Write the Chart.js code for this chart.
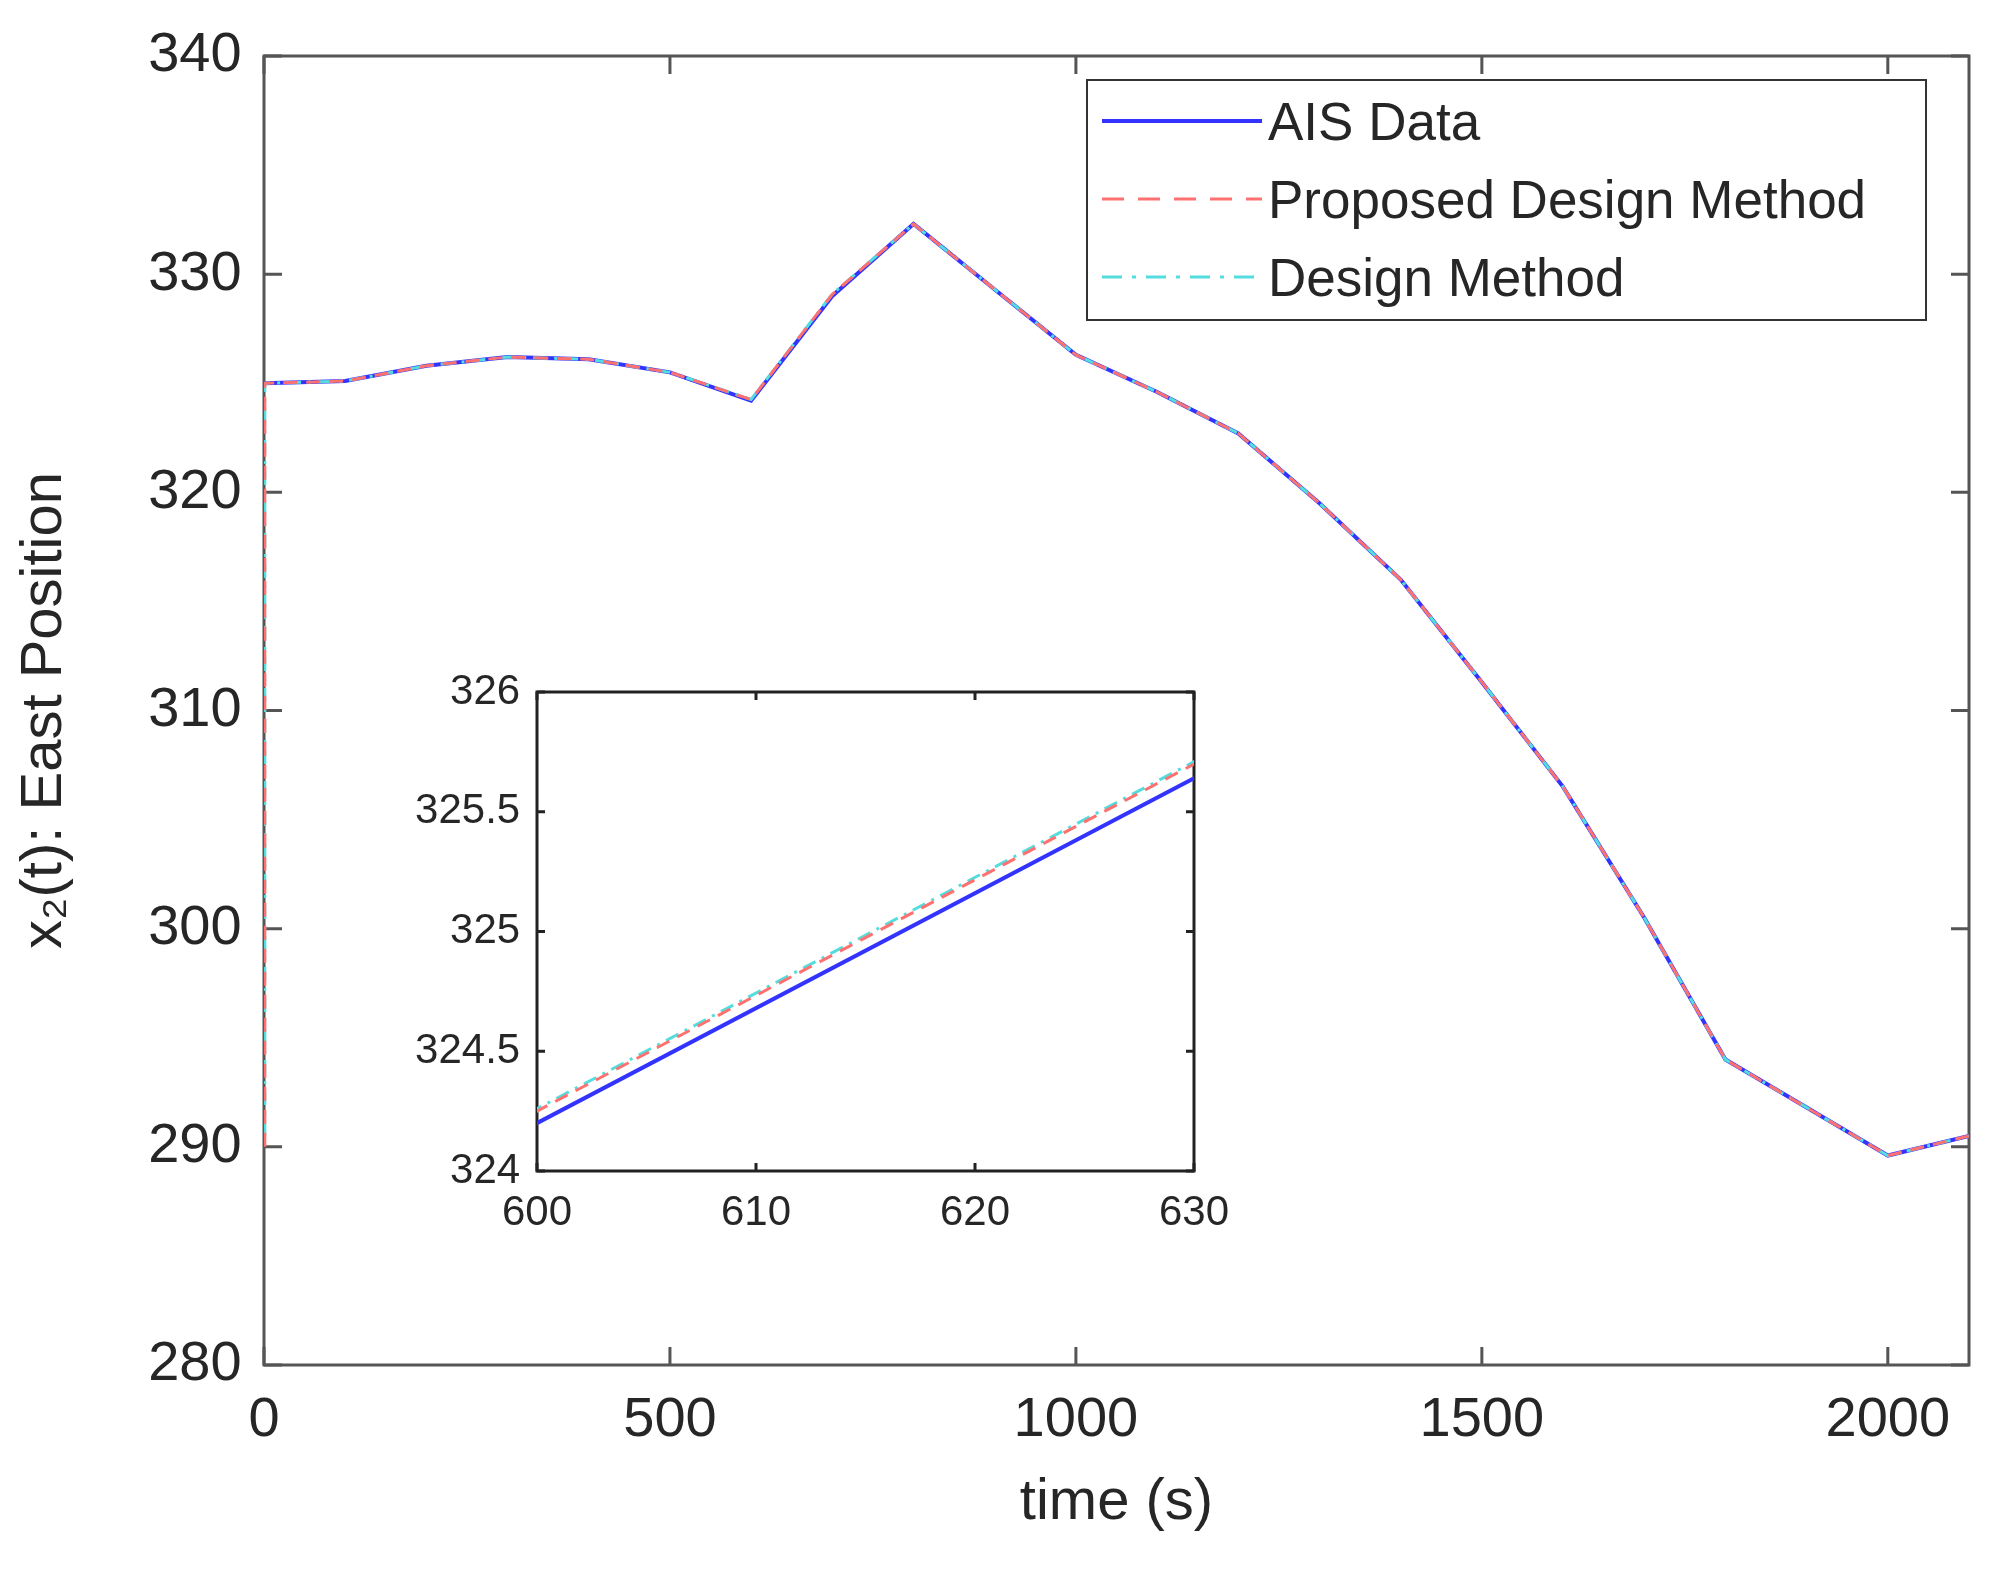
<!DOCTYPE html>
<html><head><meta charset="utf-8">
<script src="https://cdn.jsdelivr.net/npm/chart.js@4"></script>
<style>
body{margin:0;background:#fff;font-family:"Liberation Sans",Arial,sans-serif}
#wrap{position:relative;width:1992px;height:1578px}
#inset{position:absolute;left:400px;top:650px}
#legend{position:absolute;left:1086px;top:79px;width:841px;height:242px;border:2px solid #333;background:#fff;box-sizing:border-box;font-size:53px;color:#262626}
#legend div{height:76px;display:flex;align-items:center;margin-top:2px}
#legend svg{margin:0 6px 0 14px}
</style></head><body>
<div id="wrap">
<canvas id="main" width="1992" height="1578"></canvas>
<canvas id="inset" width="850" height="620"></canvas>
<div id="legend">
 <div><svg width="160" height="10"><line x1="0" y1="5" x2="160" y2="5" stroke="#3333ff" stroke-width="4"/></svg>AIS Data</div>
 <div><svg width="160" height="10"><line x1="0" y1="5" x2="160" y2="5" stroke="#ff7070" stroke-width="3" stroke-dasharray="22 14"/></svg>Proposed Design Method</div>
 <div><svg width="160" height="10"><line x1="0" y1="5" x2="160" y2="5" stroke="#55dddd" stroke-width="3" stroke-dasharray="20 10 4 10"/></svg>Design Method</div>
</div>
</div>
<script>
// dữ liệu
const timeAis = [0, 100, 200, 300, 400, 500, 600, 700, 800, 900, 1000, 1100, 1200, 1300, 1400, 1500, 1600, 1700, 1800, 1900, 2000, 2100];
const aisData = [325, 325.1, 325.8, 326.2, 326.1, 325.5, 324.2, 329, 332.3, 329.3, 326.3, 324.6, 322.7, 319.5, 316, 311.3, 306.5, 300.5, 294, 291.8, 289.6, 290.5];
const timeDesign = [1, 1, 100, 200, 300, 400, 500, 600, 700, 800, 900, 1000, 1100, 1200, 1300, 1400, 1500, 1600, 1700, 1800, 1900, 2000, 2100];
const proposedData = [290, 325, 325.1, 325.8, 326.2, 326.1, 325.5, 324.25, 329.08, 332.3, 329.3, 326.3, 324.6, 322.7, 319.5, 316, 311.3, 306.5, 300.5, 294, 291.8, 289.6, 290.5];
const designData = [290.5, 325, 325.1, 325.8, 326.2, 326.1, 325.5, 324.26, 329.09, 332.3, 329.3, 326.3, 324.6, 322.7, 319.5, 316, 311.3, 306.5, 300.5, 294, 291.8, 289.6, 290.5];
const mainXTicks = [0, 500, 1000, 1500, 2000];
const mainYTicks = [280, 290, 300, 310, 320, 330, 340];
const insetXTicks = [600, 610, 620, 630];
const insetYTicks = [324, 324.5, 325, 325.5, 326];

const pts = (xs, ys) => xs.map((x, i) => ({x: x, y: ys[i]}));

function makeDatasets(w) {
  return [
    {data: pts(timeDesign, proposedData), borderColor: '#ff7070', borderWidth: w - 1, borderDash: [14, 9]},
    {data: pts(timeDesign, designData), borderColor: '#55dddd', borderWidth: w - 1, borderDash: [14, 7, 3, 7]},
    {data: pts(timeAis, aisData), borderColor: '#3333ff', borderWidth: w}
  ].map(d => Object.assign(d, {pointRadius: 0, fill: false, tension: 0}));
}

// khung và vạch chia hướng vào trong (vẽ trước các đường)
const framePlugin = {
  id: 'frame',
  beforeDatasetsDraw(chart, args, opts) {
    const c = chart.ctx, a = chart.chartArea, L = opts.len;
    c.save();
    c.strokeStyle = opts.color; c.lineWidth = opts.lw;
    c.strokeRect(a.left, a.top, a.right - a.left, a.bottom - a.top);
    c.beginPath();
    chart.scales.x.ticks.forEach(t => {
      const px = chart.scales.x.getPixelForValue(t.value);
      c.moveTo(px, a.bottom); c.lineTo(px, a.bottom - L);
      c.moveTo(px, a.top); c.lineTo(px, a.top + L);
    });
    chart.scales.y.ticks.forEach(t => {
      const py = chart.scales.y.getPixelForValue(t.value);
      c.moveTo(a.left, py); c.lineTo(a.left + L, py);
      c.moveTo(a.right, py); c.lineTo(a.right - L, py);
    });
    c.stroke();
    c.restore();
  }
};

function axisOpts(min, max, tickVals, size, fit, title, titleSize) {
  return {
    type: 'linear', min: min, max: max,
    afterBuildTicks: s => { s.ticks = tickVals.map(v => ({value: v})); },
    afterFit: fit,
    grid: {display: false, drawTicks: false},
    border: {display: false},
    ticks: {color: '#262626', font: {size: size, family: 'Liberation Sans'}, padding: size * 0.4, maxRotation: 0,
      callback: v => String(v)},
    title: title ? {display: true, text: title, color: '#262626', padding: 0, font: {size: titleSize, family: 'Liberation Sans'}} : {display: false}
  };
}

new Chart(document.getElementById('main'), {
  type: 'line',
  data: {datasets: makeDatasets(4)},
  options: {
    responsive: false, animation: false,
    layout: {padding: {top: 38, right: 23, left: 10, bottom: 40}},
    plugins: {legend: {display: false}, tooltip: {enabled: false}, frame: {color: '#555', lw: 3, len: 18}},
    scales: {
      x: axisOpts(0, 2100, mainXTicks, 56, s => { s.height = 173; }, 'time (s)', 58),
      y: axisOpts(280, 340, mainYTicks, 56, s => { s.width = 254; }, 'x\u2082(t): East Position', 58)
    }
  },
  plugins: [framePlugin]
});

new Chart(document.getElementById('inset'), {
  type: 'line',
  data: {datasets: makeDatasets(4)},
  options: {
    responsive: false, animation: false,
    layout: {padding: {top: 30, right: 56, left: 0, bottom: 0}},
    plugins: {legend: {display: false}, tooltip: {enabled: false}, frame: {color: '#222', lw: 3, len: 8}},
    scales: {
      x: axisOpts(600, 630, insetXTicks, 42, s => { s.height = 99; }),
      y: axisOpts(324, 326, insetYTicks, 42, s => { s.width = 137; })
    }
  },
  plugins: [framePlugin]
});
</script>
</body></html>
